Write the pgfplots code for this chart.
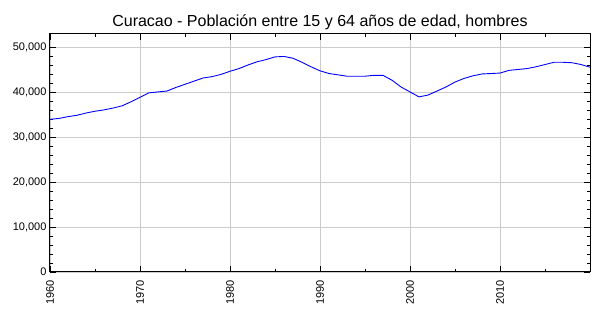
\documentclass[border=0pt]{standalone}
\usepackage{fontspec}
\setmainfont{Liberation Sans}
\usepackage{pgfplots}
\pgfplotsset{compat=1.18}
\begin{document}
\begin{tikzpicture}[x=1pt,y=1pt]
\path[use as bounding box] (0,0) rectangle (600,315);
\node[font=\fontsize{16}{18}\selectfont, anchor=base] at (320,288) {Curacao - Población entre 15 y 64 años de edad, hombres};
\begin{axis}[at={(50pt,43pt)}, anchor=south west, width=540pt, height=238pt, scale only axis,
  xmin=1960, xmax=2020, ymin=0, ymax=53000,
  xtick={1960,1970,...,2010}, minor xtick={1965,1975,...,2015},
  ytick={0,10000,...,50000}, minor y tick num=4,
  grid=major, major grid style={color=black!20, line width=0.8pt},
  tick align=inside, major tick length=6pt, minor tick length=3pt,
  every tick/.style={black, line width=0.8pt},
  axis line style={black, line width=1pt},
  /pgf/number format/assume math mode=true,
  scaled y ticks=false,
  ticklabel style={font=\fontsize{11}{13}\selectfont},
  yticklabel style={/pgf/number format/.cd, fixed, 1000 sep={,}},
  xticklabel style={yshift=-5pt, rotate=90, anchor=east, /pgf/number format/1000 sep={}},
]
\addplot[blue, line width=0.9pt, mark=none] coordinates {
(1960,34000) (1961,34200) (1962,34600) (1963,34900) (1964,35400) (1965,35800)
(1966,36100) (1967,36500) (1968,37000) (1969,37900) (1970,38900) (1971,39900)
(1972,40100) (1973,40300) (1974,41100) (1975,41800) (1976,42500) (1977,43200)
(1978,43500) (1979,44000) (1980,44700) (1981,45300) (1982,46100) (1983,46800)
(1984,47300) (1985,47900) (1986,48000) (1987,47600) (1988,46700) (1989,45700)
(1990,44800) (1991,44200) (1992,43900) (1993,43600) (1994,43600) (1995,43600)
(1996,43800) (1997,43800) (1998,42700) (1999,41200) (2000,40100) (2001,39000)
(2002,39400) (2003,40300) (2004,41200) (2005,42300) (2006,43100) (2007,43700)
(2008,44100) (2009,44200) (2010,44300) (2011,44900) (2012,45100) (2013,45300)
(2014,45700) (2015,46200) (2016,46700) (2017,46700) (2018,46600) (2019,46200)
(2020,45600)
};
\end{axis}
\end{tikzpicture}
\end{document}
